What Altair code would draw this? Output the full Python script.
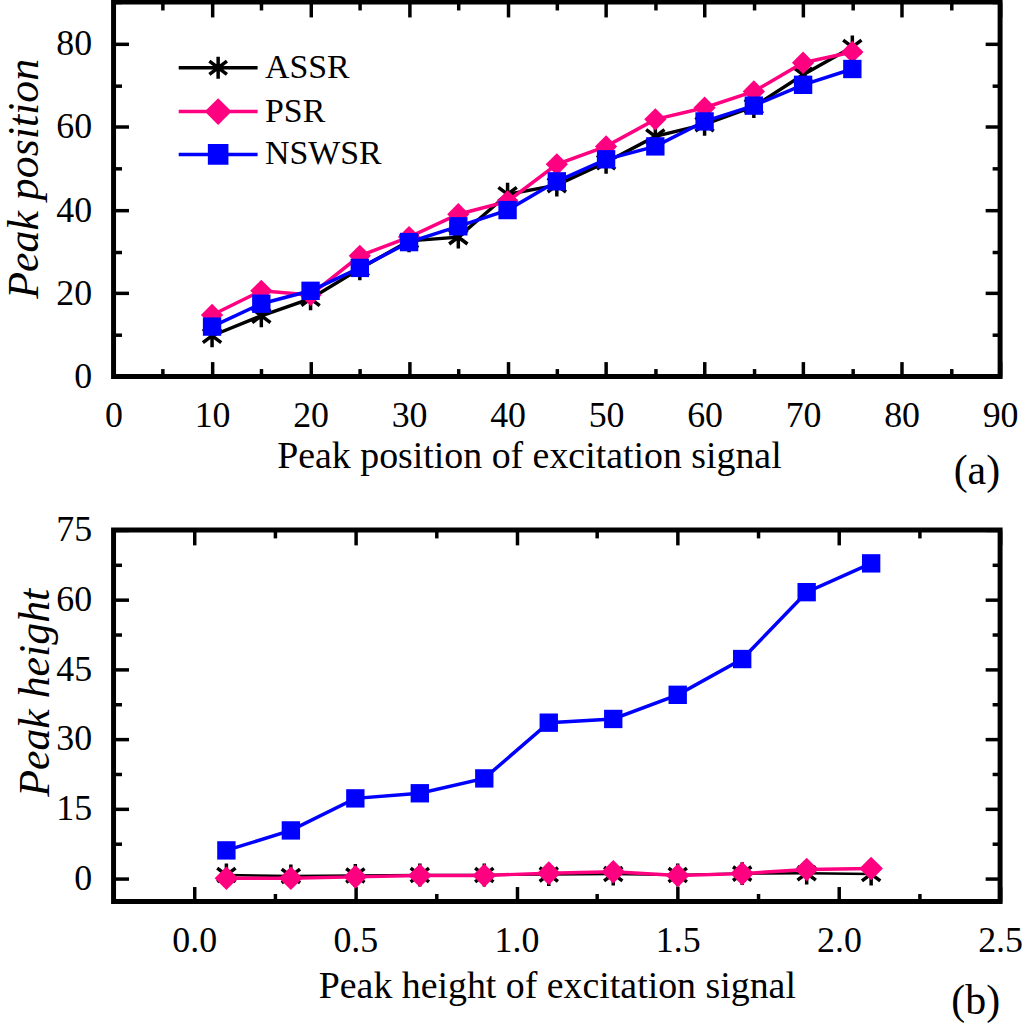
import altair as alt
import pandas as pd

F = "Liberation Serif"
BLACK, PINK, BLUE = "#000000", "#FF0080", "#0000FF"
NAMES = ["ASSR", "PSR", "NSWSR"]

# ---------------- panel (a) data ----------------
a_x = [10, 15, 20, 25, 30, 35, 40, 45, 50, 55, 60, 65, 70, 75]
a_assr = [9.8, 14.6, 18.7, 25.9, 32.6, 33.5, 43.8, 46.0, 51.5, 57.7, 60.6, 64.9, 72.5, 79.2]
a_psr = [14.8, 20.6, 19.6, 29.0, 33.5, 39.0, 42.1, 51.0, 55.3, 61.8, 64.6, 68.5, 75.4, 78.0]
a_nswsr = [12.0, 17.5, 20.6, 26.1, 32.3, 36.1, 40.0, 46.9, 52.2, 55.3, 61.3, 65.1, 70.1, 73.9]

# ---------------- panel (b) data ----------------
b_x = [0.1, 0.3, 0.5, 0.7, 0.9, 1.1, 1.3, 1.5, 1.7, 1.9, 2.1]
b_assr = [0.7, 0.5, 0.6, 0.7, 0.7, 0.8, 0.9, 0.7, 1.0, 1.1, 0.9]
b_psr = [0.0, 0.0, 0.3, 0.6, 0.6, 1.1, 1.4, 0.6, 1.0, 1.9, 2.1]
b_nswsr = [6.0, 10.3, 17.2, 18.3, 21.5, 33.5, 34.3, 39.5, 47.2, 61.6, 67.8]

# tick values
a_x_major = [0, 10, 20, 30, 40, 50, 60, 70, 80, 90]
a_x_minor = [5, 15, 25, 35, 45, 55, 65, 75, 85]
a_y_major = [0, 20, 40, 60, 80]
a_y_minor = [10, 30, 50, 70, 90]
b_x_major = [0.0, 0.5, 1.0, 1.5, 2.0, 2.5]
b_x_minor = [0.25, 0.75, 1.25, 1.75, 2.25]
b_y_major = [0, 15, 30, 45, 60, 75]
b_y_minor = [7.5, 22.5, 37.5, 52.5, 67.5]

# marker shapes (unit coordinates)
AST = "M0,-1L0,1M-0.8,-0.6L0.8,0.6M-0.8,0.6L0.8,-0.6"
LEG_AST = "M-3.6,0L3.6,0" + AST
LEG_DIA = "M-3.6,0L3.6,0M-1,0L0,-1L1,0L0,1Z"
LEG_SQ = "M-3.6,0L3.6,0M-0.78,-0.78L0.78,-0.78L0.78,0.78L-0.78,0.78Z"


def long_df(xs, series):
    rows = []
    for name, ys in zip(NAMES, series):
        for x, y in zip(xs, ys):
            rows.append({"x": x, "y": y, "series": name})
    return pd.DataFrame(rows)


def panel(df, xdom, ydom, xmaj, xmin, ymaj, ymin, fmt, xtitle, ytitle,
          xtitle_x, xtitle_y, ytitle_x, ytitle_y, tag, height, widths, sizes):
    xs = alt.Scale(domain=xdom, nice=False, zero=False)
    ys = alt.Scale(domain=ydom, nice=False, zero=False)
    base = alt.Chart(df)
    layers = []

    # axis with labels and titles
    lab_x = alt.Axis(values=xmaj, format=fmt, ticks=False, domain=False, grid=False,
                     labelPadding=22, labelFont=F, labelFontSize=36, labelColor="black",
                     labelFlush=False, labelOverlap=False,
                     title=xtitle, titleFont=F, titleFontSize=38, titleFontWeight="normal",
                     titleColor="black", titleX=xtitle_x, titleY=xtitle_y,
                     titleAlign="center", titleBaseline="alphabetic")
    lab_y = alt.Axis(values=ymaj, ticks=False, domain=False, grid=False,
                     labelPadding=22, labelFont=F, labelFontSize=36, labelColor="black",
                     labelFlush=False, labelOverlap=False,
                     title=ytitle, titleFont=F, titleFontSize=44, titleFontWeight="normal",
                     titleFontStyle="italic", titleColor="black", titleAngle=270,
                     titleX=ytitle_x, titleY=ytitle_y, titleAlign="center",
                     titleBaseline="alphabetic")
    layers.append(base.transform_filter("false").mark_point().encode(
        x=alt.X("x:Q", scale=xs, axis=lab_x), y=alt.Y("y:Q", scale=ys, axis=lab_y)))

    # inward ticks (major + minor) on all four sides
    def tick_axis(orient, vals, size):
        return alt.Axis(orient=orient, values=vals, offset=-size, tickSize=size,
                        tickWidth=3.5, tickColor="black", labels=False, domain=False,
                        grid=False, title=None)

    for xo, yo in [("bottom", "left"), ("top", "right")]:
        for xv, yv, sz in [(xmaj, ymaj, 15), (xmin, ymin, 8)]:
            layers.append(base.transform_filter("false").mark_point().encode(
                x=alt.X("x:Q", scale=xs, axis=tick_axis(xo, xv, sz)),
                y=alt.Y("y:Q", scale=ys, axis=tick_axis(yo, yv, sz))))

    # series: line then markers, in drawing order
    colors = [BLACK, PINK, BLUE]
    for i, name in enumerate(NAMES):
        sub = base.transform_filter(alt.datum.series == name)
        layers.append(sub.mark_line(color=colors[i], strokeWidth=widths[i]).encode(
            x=alt.X("x:Q", scale=xs, axis=None), y=alt.Y("y:Q", scale=ys, axis=None),
            order="x:Q"))
        if name == "ASSR":
            pt = sub.mark_point(shape=AST, size=sizes[0], filled=False, color=BLACK,
                                strokeWidth=3.5, opacity=1)
        elif name == "PSR":
            pt = sub.mark_point(shape="diamond", size=sizes[1], filled=True, color=PINK,
                                opacity=1)
        else:
            pt = sub.mark_point(shape="square", size=sizes[2], filled=True, color=BLUE,
                                opacity=1)
        layers.append(pt.encode(x=alt.X("x:Q", scale=xs, axis=None),
                                y=alt.Y("y:Q", scale=ys, axis=None)))

    # legend
    leg = alt.Legend(title=None, orient="none", legendX=88, legendY=49, padding=0,
                     labelFont=F, labelFontSize=34, labelColor="black", labelOffset=30,
                     rowPadding=8, symbolSize=484, symbolStrokeWidth=3.5)
    cscale = alt.Scale(domain=NAMES, range=[BLACK, PINK, BLUE])
    layers.append(base.transform_filter("false").mark_point(opacity=1, strokeWidth=3.5,
                                                             size=484).encode(
        x=alt.X("x:Q", scale=xs, axis=None), y=alt.Y("y:Q", scale=ys, axis=None),
        fill=alt.Fill("series:N", scale=cscale, legend=leg),
        stroke=alt.Stroke("series:N", scale=cscale, legend=leg),
        shape=alt.Shape("series:N", scale=alt.Scale(domain=NAMES,
                                                   range=[LEG_AST, LEG_DIA, LEG_SQ]),
                        legend=leg)))

    return alt.layer(*layers).resolve_axis(x="independent", y="independent").properties(
        width=890, height=height,
        title=alt.TitleParams(text=tag, orient="bottom", anchor="end", frame="group",
                              font=F, fontSize=42, fontWeight="normal", color="black",
                              offset=-24))


top = panel(long_df(a_x, [a_assr, a_psr, a_nswsr]), [0, 90], [0, 90],
            a_x_major, a_x_minor, a_y_major, a_y_minor, "d",
            "Peak position of excitation signal", "Peak position",
            417, 91, -76, 177, "(a)", 376, [3.5, 3.5, 3.5], [530, 500, 340])
bottom = panel(long_df(b_x, [b_assr, b_psr, b_nswsr]), [-0.25, 2.5], [-5, 75],
               b_x_major, b_x_minor, b_y_major, b_y_minor, ".1f",
               "Peak height of excitation signal", "Peak height",
               445, 96, -65, 163, "(b)", 373, [2.5, 3.5, 3.5], [530, 560, 340])

chart = alt.vconcat(top, bottom, spacing=154, bounds="flush").properties(
    padding={"left": 0, "top": -5, "right": 0, "bottom": 0},
    background="white",
).configure_view(stroke="black", strokeWidth=5)

chart.save("out.html", embed_options={"renderer": "svg", "actions": False})
